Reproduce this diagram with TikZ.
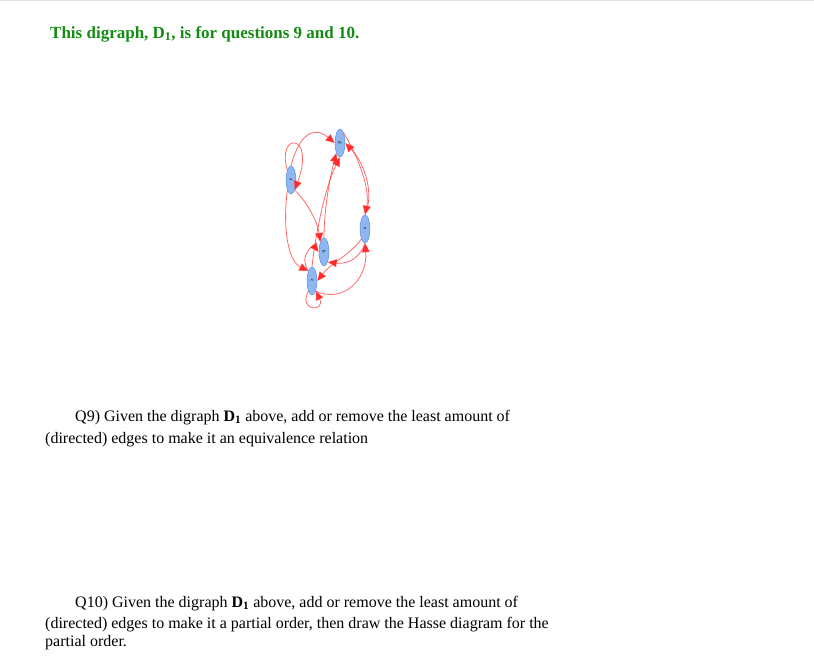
\documentclass[tikz,border=0pt]{standalone}
\usepackage{fontspec}
\setmainfont{Liberation Serif}
\usetikzlibrary{arrows.meta,shapes.geometric,positioning}

\definecolor{titlegreen}{HTML}{128C12}
\definecolor{vertexfill}{HTML}{8DB6F2}
\definecolor{vertexdraw}{HTML}{5B8FE0}
\definecolor{arcred}{HTML}{FF2A2A}

\tikzset{
  vertex/.style={ellipse, fill=vertexfill, draw=vertexdraw, line width=0.5,
    minimum width=10, minimum height=28, inner sep=0pt,
    font=\fontsize{5}{5}\selectfont},
  arc/.style={arcred, line width=0.8, draw opacity=0.7,
    -{Triangle[length=9pt,width=8pt,fill=arcred]}},
  qtext/.style={anchor=base west, inner sep=0pt, font=\fontsize{16}{18}\selectfont},
}

\newcommand{\Done}{$\mathbf{D}_{\mathbf{1}}$}
\newcommand{\vlabel}[1]{\rotatebox{-90}{#1}}

\begin{document}
\begin{tikzpicture}[x=1pt, y=-1pt]
  \useasboundingbox (0,0) rectangle (814,656);
  \draw[black!12, line width=1] (0,0.5) -- (814,0.5);

  % title
  \node[qtext, text=titlegreen, font=\fontsize{17}{19}\selectfont\bfseries] (title) at (50,38)
    {This digraph, D\textsubscript{1}, is for questions 9 and 10.};

  % vertices
  \node[vertex] (a) at (291,180) {\vlabel{a}};
  \node[vertex] (d) at (340,143) {\vlabel{d}};
  \node[vertex] (e) at (365,229) {\vlabel{e}};
  \node[vertex] (b) at (324,252) {\vlabel{b}};
  \node[vertex] (c) at (312,281) {\vlabel{c}};

  % arcs
  \draw[arc] (a.north west) .. controls (276,132) and (316,132) .. (a.south east);
  \draw[arc] (a.north) .. controls (298,138) and (312,124) .. (d.west);
  \draw[arc] (a.south west) .. controls (282,235) and (290,262) .. (c.north west);
  \draw[arc] (a.south east) .. controls (310,205) and (318,225) .. (b.north west);
  \draw[arc] (d.north east) .. controls (360,160) and (370,190) .. (e.north);
  \draw[arc] (e.north) .. controls (374,195) and (366,165) .. (d.east);
  \draw[arc] (b.north) .. controls (324,215) and (328,185) .. (d.south west);
  \draw[arc] (c.north) .. controls (316,230) and (326,185) .. (d.south);
  \draw[arc] (e.south) .. controls (358,262) and (344,264) .. (b.south east);
  \draw[arc] (e.south west) .. controls (350,255) and (332,262) .. (c.east);
  \draw[arc] (c.south east) .. controls (344,304) and (368,278) .. (e.south);
  \draw[arc] (c.north west) .. controls (298,254) and (314,246) .. (b.west);
  \draw[arc] (c.south west) .. controls (298,312) and (326,312) .. (c.south east);

  % questions
  \node[qtext] (q9a) at (75,421)
    {Q9) Given the digraph \Done{} above, add or remove the least amount of};
  \node[qtext] (q9b) at (45,443)
    {(directed) edges to make it an equivalence relation};
  \node[qtext] (q10a) at (75,607)
    {Q10) Given the digraph \Done{} above, add or remove the least amount of};
  \node[qtext] (q10b) at (45,628)
    {(directed) edges to make it a partial order, then draw the Hasse diagram for the};
  \node[qtext] (q10c) at (45,646)
    {partial order.};
\end{tikzpicture}
\end{document}
